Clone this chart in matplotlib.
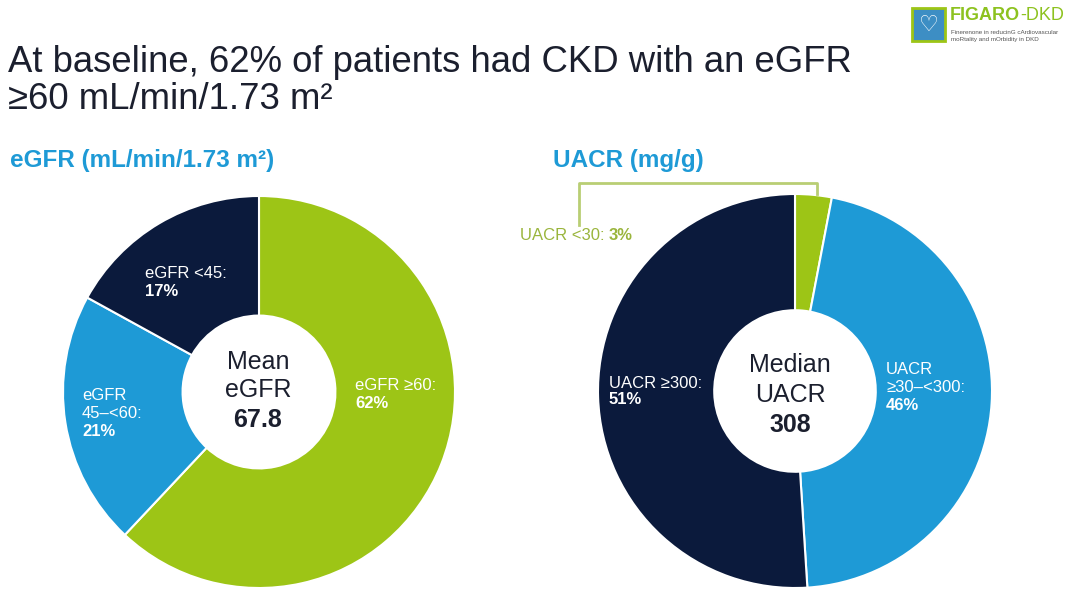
import matplotlib.pyplot as plt
from matplotlib.lines import Line2D
from matplotlib.patches import Rectangle, Circle

plt.rcParams['font.family'] = ['Liberation Sans', 'DejaVu Sans']

# data
egfr_labels = ['eGFR ≥60', 'eGFR 45–<60', 'eGFR <45']
egfr_values = [62, 21, 17]
uacr_labels = ['UACR <30', 'UACR ≥30–<300', 'UACR ≥300']
uacr_values = [3, 46, 51]
egfr_mean = '67.8'
uacr_median = '308'

GREEN = '#9DC516'
BLUE = '#1E9AD6'
NAVY = '#0B1A3C'
DARK = '#1B1F2E'
W, H = 1080, 592

fig = plt.figure(figsize=(10.8, 5.92), dpi=100)
fig.patch.set_facecolor('white')


def ftext(px, py, s, **kw):
    # place text by pixel position (top-left origin)
    return fig.text(px / W, 1 - py / H, s, **kw)


def donut(cx, cy, r, values, colors, hole):
    s = r * 1.1
    ax = fig.add_axes([(cx - s) / W, 1 - (cy + s) / H, 2 * s / W, 2 * s / H])
    ax.pie(values, colors=colors, startangle=90, counterclock=False, radius=1,
           wedgeprops=dict(width=1 - hole, edgecolor='white', linewidth=1.5))
    ax.add_patch(Circle((0, 0), hole, facecolor='white', edgecolor='none'))
    ax.set_xlim(-1.1, 1.1)
    ax.set_ylim(-1.1, 1.1)
    ax.set_aspect('equal')
    ax.axis('off')
    return ax


# title
ftext(8, 62, 'At baseline, 62% of patients had CKD with an eGFR', fontsize=26.3,
      color=DARK, va='center', ha='left')
ftext(8, 100, '≥60 mL/min/1.73 m²', fontsize=26.3, color=DARK, va='center', ha='left')

# logo
fig.patches.append(Rectangle((912 / W, 1 - 41 / H), 33 / W, 33 / H, transform=fig.transFigure,
                             facecolor='#3D8EC4', edgecolor=GREEN, linewidth=2))
ftext(928.5, 24.5, '♡', fontsize=16, color='white', ha='center', va='center', family='DejaVu Sans')
ftext(950, 16, 'FIGARO', fontsize=13, fontweight='bold', color='#8DC21F', va='center')
ftext(1020, 16, '-DKD', fontsize=13, color='#8DC21F', va='center')
ftext(951, 32, 'Finerenone in reducinG cArdiovascular', fontsize=4.5, color='#555555', va='center')
ftext(951, 40, 'moRtality and mOrbidity in DKD', fontsize=4.5, color='#555555', va='center')

# subtitles
ftext(10, 160, 'eGFR (mL/min/1.73 m²)', fontsize=17.5, fontweight='bold', color=BLUE, va='center')
ftext(553, 160, 'UACR (mg/g)', fontsize=17.5, fontweight='bold', color=BLUE, va='center')

# donuts
donut(259, 392, 196, egfr_values, [GREEN, BLUE, NAVY], 0.39)
donut(795, 391, 197, uacr_values, [GREEN, BLUE, NAVY], 0.41)

# left labels
lab = dict(fontsize=12, color='white', va='center', ha='left')
ftext(145, 273, 'eGFR <45:', **lab)
ftext(145, 292, '17%', fontweight='bold', **lab)
ftext(82, 395, 'eGFR', **lab)
ftext(82, 413, '45–<60:', **lab)
ftext(82, 432, '21%', fontweight='bold', **lab)
ftext(355, 385, 'eGFR ≥60:', **lab)
ftext(355, 403, '62%', fontweight='bold', **lab)

cen = dict(fontsize=18, color=DARK, va='center', ha='center')
ftext(258, 362, 'Mean', **cen)
ftext(258, 390, 'eGFR', **cen)
ftext(258, 420, egfr_mean, fontweight='bold', **cen)

# right labels
ftext(609, 383, 'UACR ≥300:', **lab)
ftext(609, 400, '51%', fontweight='bold', **lab)
ftext(886, 370, 'UACR', **lab)
ftext(886, 388, '≥30–<300:', **lab)
ftext(886, 406, '46%', fontweight='bold', **lab)

ftext(790, 365, 'Median', **cen)
ftext(790, 395, 'UACR', **cen)
ftext(790, 425, uacr_median, fontweight='bold', **cen)

# callout for UACR <30
fig.lines.append(Line2D([579 / W, 579 / W, 817 / W, 817 / W],
                        [1 - 225 / H, 1 - 183 / H, 1 - 183 / H, 1 - 194 / H],
                        transform=fig.transFigure, color='#B9CE74', linewidth=2))
ftext(520, 236, 'UACR <30:', fontsize=12, color='#9AB53C', va='center')
ftext(609, 236, '3%', fontsize=12, fontweight='bold', color='#9AB53C', va='center')

fig.savefig('out.png', dpi=100)
